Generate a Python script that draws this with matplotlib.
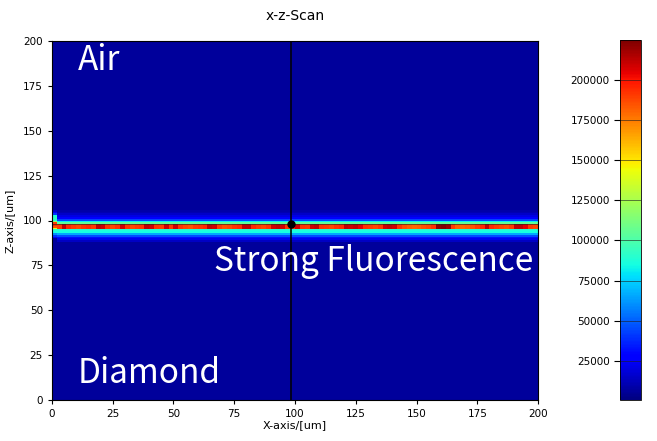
import numpy as np
import matplotlib.pyplot as plt

# x-z scan: 100 columns of 2 um, 200 rows of 1 um
x_edges = np.arange(0, 202, 2)
z_edges = np.arange(0, 201, 1)

background = 6000

# vertical profile (z row -> counts), rows not listed = background
profile_rows = [88, 89, 90, 91, 92, 93, 94, 98, 99, 100, 101, 102, 103, 104, 105]
profile_vals = [14000, 22000, 32000, 46000, 66000, 85000, 88000,
                105000, 82000, 44000, 28000, 20000, 15000, 11000, 8500]

# red core rows (95-97), intensity along x (one value per 2 um column)
red_rows = [95, 96, 97]
red_row = [
    192000, 190000, 212000, 195000, 190000, 188000, 192000, 195000, 190000, 212000,
    210000, 192000, 188000, 192000, 210000, 192000, 188000, 190000, 192000, 212000,
    210000, 192000, 190000, 210000, 192000, 210000, 192000, 188000, 185000, 190000,
    192000, 195000, 212000, 210000, 190000, 185000, 188000, 192000, 195000, 212000,
    212000, 195000, 190000, 188000, 192000, 210000, 212000, 210000, 192000, 195000,
    210000, 192000, 190000, 210000, 212000, 192000, 190000, 188000, 192000, 195000,
    212000, 210000, 212000, 205000, 192000, 190000, 188000, 192000, 210000, 212000,
    210000, 192000, 185000, 182000, 180000, 182000, 185000, 188000, 192000, 222000,
    225000, 220000, 190000, 182000, 180000, 182000, 185000, 190000, 195000, 212000,
    195000, 190000, 188000, 185000, 190000, 212000, 212000, 205000, 190000, 188000,
]

# first column (x 0-2) sits about 2 um higher
first_col_rows = [90, 91, 92, 93, 94, 95, 96, 97, 98, 99, 100, 101, 102, 103, 104, 105]
first_col_vals = [25000, 40000, 60000, 85000, 90000, 140000, 185000, 195000,
                  190000, 120000, 90000, 92000, 88000, 40000, 25000, 15000]

line_x = 98.5
spot_z = 98.2

C = np.full((len(z_edges) - 1, len(x_edges) - 1), float(background))
for r, v in zip(profile_rows, profile_vals):
    C[r, :] = v
for r in red_rows:
    C[r, :] = red_row
C[:, 0] = background
for r, v in zip(first_col_rows, first_col_vals):
    C[r, 0] = v

fig = plt.figure(figsize=(6.57, 4.41), dpi=100)
ax = fig.add_axes([0.079, 0.093, 0.740, 0.814])
mesh = ax.pcolormesh(x_edges, z_edges, C, cmap='jet', vmin=500, vmax=225000,
                     shading='flat')

ax.axvline(line_x, color='black', lw=1.3, alpha=0.85)
ax.axhline(spot_z, color='#202020', lw=0.7, alpha=0.6)
ax.plot([line_x], [spot_z], 'o', color='black', ms=5)

ax.set_xlim(0, 200)
ax.set_ylim(0, 200)
ax.set_xticks(np.arange(0, 201, 25))
ax.set_yticks(np.arange(0, 201, 25))
ax.tick_params(labelsize=7.5, length=3)
ax.set_xlabel('X-axis/[um]', fontsize=8, labelpad=1)
ax.set_ylabel('Z-axis/[um]', fontsize=8, labelpad=6)
ax.set_title('x-z-Scan', fontsize=10, pad=15)

txt = dict(color='white', family=['Noto Sans CJK SC', 'DejaVu Sans'],
           fontweight='light')
ax.text(10.5, 189, 'Air', fontsize=24, va='center', ha='left', **txt)
ax.text(198, 77, 'Strong Fluorescence', fontsize=24, va='center', ha='right', **txt)
ax.text(10.5, 15, 'Diamond', fontsize=24, va='center', ha='left', **txt)

cax = fig.add_axes([0.944, 0.093, 0.032, 0.816])
cbar = fig.colorbar(mesh, cax=cax)
cbar.set_ticks(np.arange(25000, 200001, 25000))
cax.yaxis.set_ticks_position('left')
cax.tick_params(labelsize=7.5, length=4)
for t in np.arange(25000, 200001, 25000):
    cax.axhline(t, color='#202020', lw=0.6, alpha=0.7)
cbar.outline.set_linewidth(0.6)

fig.savefig('out.png', dpi=100)
